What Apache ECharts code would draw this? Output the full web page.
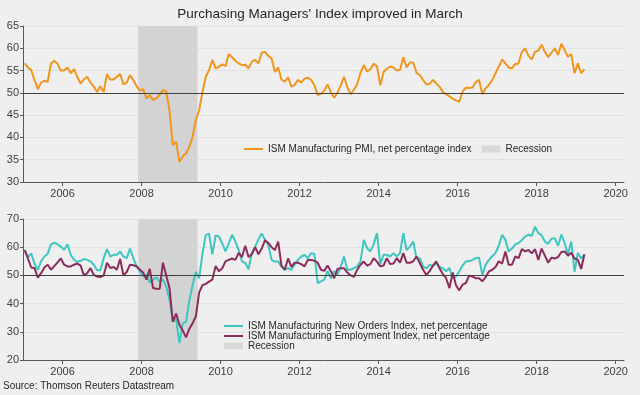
<!DOCTYPE html>
<html><head><meta charset="utf-8">
<script src="https://cdn.jsdelivr.net/npm/echarts@6.0.0/dist/echarts.min.js"></script>
<style>html,body{margin:0;padding:0;background:#efefef;}#c{width:640px;height:395px;}</style>
</head><body><div id="c"></div>
<script>
// ---- data (monthly, Jan 2005 .. Mar 2019) ----
const startYear = 2005;
const yearTicks = [2006, 2008, 2010, 2012, 2014, 2016, 2018, 2020];
const recessionStart = [2007, 12];
const recessionEnd = [2009, 6];

const pmi = [
  56.6, 55.7, 55.1, 52.9, 50.8, 52.3, 52.7, 52.5, 56.6, 57.2, 56.5, 55.0, // 2005
  55.0, 55.7, 54.4, 55.3, 53.6, 52.1, 53.0, 53.6, 52.3, 51.4, 50.2, 51.5, // 2006
  50.2, 54.2, 53.0, 53.0, 53.6, 54.2, 51.9, 52.3, 54.0, 52.9, 51.5, 50.5, // 2007
  50.8, 48.7, 49.5, 48.4, 48.8, 49.6, 50.6, 50.3, 46.0, 38.3, 39.0, 34.5, // 2008
  35.8, 36.4, 37.9, 40.1, 43.9, 46.1, 50.2, 53.6, 55.1, 57.4, 55.5, 55.9, // 2009
  56.4, 56.0, 58.7, 58.0, 57.2, 56.6, 56.2, 56.3, 55.5, 57.0, 57.4, 56.6, // 2010
  59.0, 59.2, 58.3, 57.7, 54.7, 55.7, 53.0, 52.5, 53.5, 51.4, 51.8, 52.9, // 2011
  52.3, 53.2, 53.4, 52.9, 51.7, 49.5, 49.8, 50.5, 51.9, 50.1, 48.9, 50.0, // 2012
  51.7, 53.6, 51.3, 49.7, 50.7, 52.0, 54.5, 56.2, 54.8, 55.3, 56.5, 56.0, // 2013
  51.7, 54.7, 55.4, 55.9, 55.7, 55.0, 55.2, 58.0, 55.7, 56.8, 56.8, 54.5, // 2014
  54.0, 52.9, 51.9, 52.0, 52.9, 52.1, 51.4, 50.2, 49.7, 49.2, 48.7, 48.3, // 2015
  48.0, 50.3, 51.2, 51.1, 51.2, 52.4, 52.9, 49.7, 51.0, 51.8, 52.9, 54.4, // 2016
  55.9, 57.5, 56.6, 55.7, 55.5, 56.5, 56.6, 59.2, 60.0, 58.3, 57.5, 59.2, // 2017
  59.5, 60.8, 59.2, 58.0, 59.0, 60.0, 58.5, 61.0, 59.6, 58.1, 58.7, 54.4, // 2018
  56.6, 54.4, 55.3                                                        // 2019
];

const newOrders = [
  59.0, 56.5, 57.8, 54.2, 52.0, 55.0, 56.7, 57.7, 61.0, 61.6, 61.0, 60.2, // 2005
  59.1, 61.0, 57.3, 55.5, 54.8, 55.2, 55.8, 55.5, 55.0, 53.8, 51.8, 51.8, // 2006
  56.1, 59.3, 56.7, 57.3, 57.3, 58.5, 56.7, 56.1, 59.5, 56.1, 53.2, 51.4, // 2007
  49.6, 50.2, 47.5, 48.5, 49.3, 47.9, 48.5, 46.1, 41.4, 33.7, 34.5, 26.0, // 2008
  33.0, 33.5, 41.0, 46.5, 51.2, 49.0, 57.7, 64.3, 64.8, 57.5, 64.2, 63.8, // 2009
  61.4, 58.5, 61.4, 64.4, 62.0, 59.0, 55.0, 54.4, 52.2, 57.9, 60.2, 62.8, // 2010
  64.9, 62.6, 60.8, 55.5, 54.9, 54.9, 53.1, 52.0, 52.6, 52.0, 53.8, 55.5, // 2011
  56.7, 57.3, 56.1, 57.9, 57.6, 47.3, 47.9, 48.5, 51.5, 49.0, 51.5, 50.2, // 2012
  53.2, 56.7, 52.0, 52.0, 52.6, 53.2, 55.0, 62.6, 59.7, 58.5, 61.0, 65.0, // 2013
  54.0, 57.3, 57.3, 56.7, 57.9, 56.7, 57.9, 65.0, 59.0, 60.2, 62.0, 56.1, // 2014
  56.1, 53.2, 52.5, 53.8, 53.2, 54.4, 53.0, 52.5, 51.5, 52.6, 49.0, 49.6, // 2015
  51.5, 53.5, 55.0, 55.0, 55.5, 56.1, 56.3, 50.2, 53.8, 55.5, 56.8, 58.0, // 2016
  60.5, 64.4, 62.6, 58.5, 59.5, 61.0, 61.5, 62.5, 63.8, 64.4, 64.0, 67.3, // 2017
  65.0, 64.2, 62.0, 61.2, 63.0, 63.2, 60.5, 64.5, 61.5, 57.5, 62.0, 51.3, // 2018
  58.0, 56.0, 57.4                                                        // 2019
];

const employment = [
  59.0, 56.0, 52.8, 52.6, 49.2, 50.8, 52.8, 53.8, 52.0, 53.3, 54.6, 56.0, // 2005
  53.8, 53.2, 53.2, 53.8, 54.2, 53.5, 50.0, 50.8, 52.6, 50.2, 49.6, 49.4, // 2006
  50.0, 54.5, 52.6, 53.0, 52.0, 55.8, 50.0, 51.2, 53.8, 53.6, 53.2, 52.0, // 2007
  51.0, 48.5, 52.3, 45.5, 45.3, 45.2, 54.5, 50.0, 45.5, 33.5, 36.5, 32.5, // 2008
  30.5, 28.0, 31.0, 33.0, 35.5, 44.0, 46.5, 47.0, 47.8, 48.5, 53.3, 51.5, // 2009
  52.5, 55.0, 55.5, 56.0, 55.5, 58.0, 56.5, 60.5, 56.5, 57.5, 60.0, 57.5, // 2010
  59.5, 62.5, 61.5, 60.0, 59.0, 62.0, 53.5, 52.0, 56.0, 53.0, 54.5, 54.5, // 2011
  54.0, 53.2, 55.5, 55.5, 55.2, 54.5, 52.0, 51.6, 53.5, 51.5, 49.0, 52.3, // 2012
  52.5, 52.5, 51.0, 50.0, 49.5, 52.0, 53.8, 54.9, 53.5, 54.0, 56.1, 54.9, // 2013
  53.2, 53.5, 56.1, 54.0, 54.2, 56.1, 54.5, 57.9, 54.5, 54.5, 55.0, 56.7, // 2014
  54.4, 52.0, 50.2, 51.5, 53.5, 55.0, 52.5, 50.5, 49.0, 45.5, 51.0, 46.5, // 2015
  44.7, 46.7, 47.3, 49.9, 49.6, 49.0, 49.0, 47.9, 49.4, 51.4, 52.0, 53.0, // 2016
  55.0, 54.2, 58.5, 53.8, 53.8, 56.7, 56.1, 59.3, 58.5, 59.0, 57.8, 59.3, // 2017
  55.5, 59.5, 57.0, 54.5, 56.3, 56.0, 56.5, 58.3, 58.5, 57.0, 58.0, 56.0, // 2018
  55.5, 52.3, 57.5                                                        // 2019
];

const titleText = "Purchasing Managers' Index improved in March";
const pmiName = 'ISM Manufacturing PMI, net percentage index';
const noName = 'ISM Manufacturing New Orders Index, net percentage';
const emName = 'ISM Manufacturing Employment Index, net percentage';
const recName = 'Recession';
const sourceText = 'Source: Thomson Reuters Datastream';

// ---- build ----
const FONT = "'Liberation Sans Narrow','Arial Narrow','Liberation Sans',Arial,sans-serif";
const axisColor = '#595959';
const labelColor = '#404040';
const textColor = '#262626';
const toSeries = arr => arr.map((v, i) => [startYear + (i + 0.5) / 12, v]);
const recStart = recessionStart[0] + (recessionStart[1] - 1) / 12;
const recEnd = recessionEnd[0] + (recessionEnd[1] - 1) / 12;

function xAxis(gi) {
  return {
    type: 'value', gridIndex: gi, min: 2005, max: 2020.21,
    axisLine: { show: true, onZero: false, lineStyle: { color: axisColor, width: 1 } },
    axisTick: { show: true, length: 4, customValues: yearTicks, lineStyle: { color: axisColor } },
    axisLabel: { customValues: yearTicks, formatter: v => String(v), color: labelColor, fontFamily: FONT, fontSize: 11, margin: 6 },
    splitLine: { show: false }
  };
}
function yAxis(gi, min, max, interval) {
  return {
    type: 'value', gridIndex: gi, min, max, interval,
    axisLine: { show: true, onZero: false, lineStyle: { color: axisColor, width: 1 } },
    axisTick: { show: true, length: 3, lineStyle: { color: axisColor } },
    axisLabel: { formatter: v => String(v), color: labelColor, fontFamily: FONT, fontSize: 11, margin: 4 },
    splitLine: { show: true, lineStyle: { color: '#e1e1e1', width: 1 } }
  };
}
const line50 = {
  silent: true, symbol: ['none', 'none'], label: { show: false },
  lineStyle: { color: '#404040', width: 1.2, type: 'solid' }, data: [{ yAxis: 50 }]
};
const recArea = {
  silent: true, itemStyle: { color: '#d3d3d3' },
  data: [[{ xAxis: recStart }, { xAxis: recEnd }]]
};
const noSymbol = { opacity: 0 };

const chart = echarts.init(document.getElementById('c'), null, { renderer: 'canvas' });
chart.setOption({
  animation: false,
  backgroundColor: '#efefef',
  title: { text: titleText, left: 'center', top: 2,
    textStyle: { fontFamily: FONT, fontSize: 13.5, fontWeight: 'normal', color: textColor } },
  grid: [
    { left: 23, right: 16, top: 26, height: 156 },
    { left: 23, right: 16, top: 219, height: 141 }
  ],
  xAxis: [xAxis(0), xAxis(1)],
  yAxis: [yAxis(0, 30, 65, 5), yAxis(1, 20, 70, 10)],
  legend: [
    { left: 238, top: 139, itemWidth: 19, itemHeight: 7, itemGap: 10,
      textStyle: { fontFamily: FONT, fontSize: 10, color: textColor },
      data: [{ name: pmiName, itemStyle: noSymbol }, { name: recName, icon: 'rect' }] },
    { orient: 'vertical', left: 218, top: 316, itemWidth: 19, itemHeight: 7, itemGap: 0,
      textStyle: { fontFamily: FONT, fontSize: 10, color: textColor, lineHeight: 10 },
      data: [{ name: noName, itemStyle: noSymbol }, { name: emName, itemStyle: noSymbol }, { name: recName, icon: 'rect' }] }
  ],
  graphic: [{ type: 'text', left: 3, top: 381,
    style: { text: sourceText, font: '10px ' + FONT, fill: textColor } }],
  series: [
    { name: pmiName, type: 'line', xAxisIndex: 0, yAxisIndex: 0, data: toSeries(pmi),
      symbol: 'none', color: '#f0961e', lineStyle: { width: 2, color: '#f0961e' },
      markLine: line50, markArea: recArea },
    { name: recName, type: 'scatter', xAxisIndex: 0, yAxisIndex: 0, data: [],
      symbol: 'rect', itemStyle: { color: '#d3d3d3' } },
    { name: noName, type: 'line', xAxisIndex: 1, yAxisIndex: 1, data: toSeries(newOrders),
      symbol: 'none', color: '#3ec6c1', lineStyle: { width: 2, color: '#3ec6c1' },
      markLine: line50, markArea: recArea },
    { name: emName, type: 'line', xAxisIndex: 1, yAxisIndex: 1, data: toSeries(employment),
      symbol: 'none', color: '#8c2c5c', lineStyle: { width: 2, color: '#8c2c5c' } }
  ]
});
</script></body></html>
